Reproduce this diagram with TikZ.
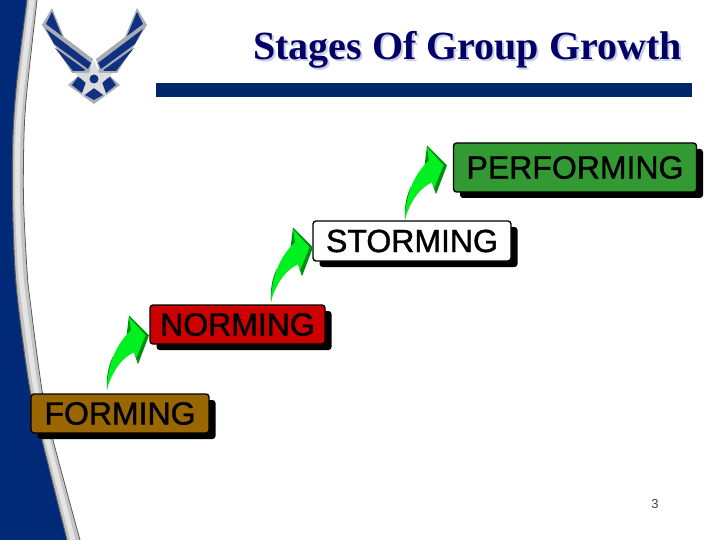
\documentclass[tikz,border=0pt]{standalone}
\usepackage{fontspec}
\setmainfont{Liberation Sans}
\newfontfamily\titlefont{Liberation Serif}
\newfontface\stagefont{Liberation Sans}[FakeBold=1.3]
\usepackage{xcolor}
\usetikzlibrary{calc,shadows}
\definecolor{panelblue}{HTML}{002A78}
\definecolor{barblue}{HTML}{00266A}
\definecolor{titlenavy}{HTML}{000066}
\definecolor{titleshade}{HTML}{C8CCE4}
\definecolor{bandgray}{HTML}{C4C4C4}
\definecolor{bandlight}{HTML}{E4E4E4}
\definecolor{banddark}{HTML}{5A5A5A}
\definecolor{wingblue}{HTML}{103080}
\definecolor{winggray}{HTML}{A8ACB4}
\definecolor{starwhite}{HTML}{DCDCE0}
\definecolor{arrowgreen}{HTML}{00F020}
\definecolor{arrowdark}{HTML}{009010}
\definecolor{stagegreen}{HTML}{339933}
\definecolor{stagered}{HTML}{CC0000}
\definecolor{stagebrown}{HTML}{996600}
\begin{document}
\begin{tikzpicture}[
      x=1pt, y=-1pt,
      stagebox/.style={
        rounded corners=3pt,
        draw=black, line width=1.4pt,
        text=black,
        inner sep=0pt,
        font=\stagefont\fontsize{32}{36}\selectfont,
        drop shadow={shadow xshift=6.5pt, shadow yshift=-6pt, fill=black, opacity=1}
      },
      wingpanel/.style={fill=wingblue, draw=none},
      pics/growarrow/.style={code={
        \fill[arrowdark] (22,-75) -- (42,-55) -- (31,-26) -- (27,-38) -- (19,-50) -- cycle;
        \fill[arrowdark] (0,0) .. controls (-1,-12) and (1,-24) .. (6,-34) -- (3,-14) -- cycle;
        \fill[arrowgreen] (0,-2) .. controls (1,-28) and (10,-47) .. (24,-60)
          -- (22,-73) -- (38.5,-55) -- (29,-32) -- (27,-38)
          .. controls (15,-32) and (7,-22) .. (0,-2) -- cycle;
      }},
      pics/wing/.style={code={
        \fill[winggray] (52,8) -- (42,25) -- (72,73) -- (89,73) -- (93,59) -- (64,37) -- cycle;
        \fill[wingpanel] (52,12) -- (46,24) -- (62,36) -- cycle;
        \fill[wingpanel] (46,29) -- (54,44) -- (88,69) -- (91,63) -- cycle;
        \fill[wingpanel] (55,48) -- (73,71) -- (87,71) -- cycle;
      }}
    ]
      \useasboundingbox (0,0) rectangle (720,540);
      \fill[panelblue] (0,0) -- plot[smooth] coordinates {(27,0) (17,80) (13,135) (12.5,200) (15,270) (20,320) (30,390) (42,440) (67,540)} -- (0,540) -- cycle;
      \fill[bandgray] plot[smooth] coordinates {(27,0) (17,80) (13,135) (12.5,200) (15,270) (20,320) (30,390) (42,440) (67,540)} -- plot[smooth] coordinates {(80,540) (53,440) (42,390) (30,300) (27,270) (23.5,200) (24,135) (27,90) (37,0)} -- cycle;
      \draw[bandlight, line width=5pt] plot[smooth] coordinates {(32,0) (22,85) (18,135) (17.5,200) (20.5,270) (25,310) (36,390) (47.5,440) (73,540)};
      \draw[banddark, line width=0.8pt] plot[smooth] coordinates {(80,540) (53,440) (42,390) (30,300) (27,270) (23.5,200) (24,135) (27,90) (37,0)};
      \draw[banddark, line width=1pt] plot[smooth] coordinates {(27,0) (17,80) (13,135) (12.5,200) (15,270) (20,320) (30,390) (42,440) (67,540)};
      \pic[transform shape] {wing};
      \begin{scope}[xshift=189pt, xscale=-1]
        \pic[transform shape] {wing};
      \end{scope}
      \fill[winggray] (68,85) -- (85,70) -- (103,70) -- (120,85) -- (94,104) -- cycle;
      \fill[wingpanel] (78,77) -- (72,85) -- (82,93) -- (86,82) -- cycle;
      \fill[wingpanel] (110,77) -- (116,85) -- (106,93) -- (102,82) -- cycle;
      \fill[wingpanel] (94,88) -- (85,95) -- (94,100) -- (103,95) -- cycle;
      \fill[starwhite] (94,60) -- (99,73) -- (113,73) -- (102,83) -- (107,97) -- (94,88) -- (81,97) -- (86,83) -- (75,73) -- (89,73) -- cycle;
      \fill[wingblue] (94,79) circle (4.5);
      \node[font=\titlefont\bfseries\fontsize{40}{44}\selectfont, text=titleshade, anchor=base] (titleshadow) at (469.5,62) {Stages Of Group Growth};
      \node[font=\titlefont\bfseries\fontsize{40}{44}\selectfont, text=titlenavy, anchor=base] (title) at (467.5,60) {Stages Of Group Growth};
      \fill[barblue] (156,83) rectangle (692,97);
      \node[stagebox, fill=stagebrown, minimum width=178pt, minimum height=39pt] (forming) at (120,413.5) {FORMING};
      \node[stagebox, fill=stagered, minimum width=175pt, minimum height=39pt] (norming) at (237.5,324.5) {NORMING};
      \node[stagebox, fill=white, minimum width=198pt, minimum height=40pt] (storming) at (412,241) {STORMING};
      \node[stagebox, fill=stagegreen, minimum width=243pt, minimum height=49pt] (performing) at (575,167.5) {PERFORMING};
      \pic at ($(forming.north)+(-13,-3)$) {growarrow};
      \pic at ($(norming.north)+(33.5,-2)$) {growarrow};
      \pic at ($(storming.north)+(-7,0)$) {growarrow};
      \node[font=\fontsize{13}{15}\selectfont, text=black!75] (pagenum) at (655,504) {3};
    \end{tikzpicture}
\end{document}
